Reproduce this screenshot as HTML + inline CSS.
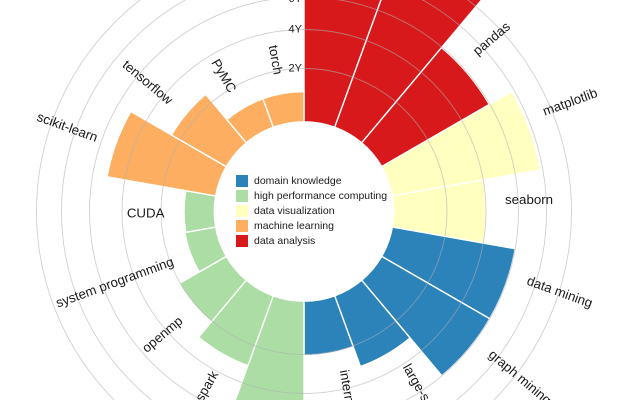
<!DOCTYPE html>
<html><head><meta charset="utf-8"><style>
html,body{margin:0;padding:0;background:#fff;width:640px;height:400px;overflow:hidden}
svg{display:block;overflow:hidden}
text{font-family:"Liberation Sans",Arial,Helvetica,sans-serif;fill:#1a1a1a}
</style></head><body>
<svg width="640" height="400" viewBox="0 0 640 400" xmlns="http://www.w3.org/2000/svg">
<defs><clipPath id="frame"><rect x="0" y="0" width="640" height="400"/></clipPath></defs>
<g clip-path="url(#frame)">
<g stroke="#ffffff" stroke-width="1.4" stroke-linejoin="miter">
<path fill="#d7191c" d="M304,121.8 L304,-78.5 A290,290 0 0 1 403.19,-61.01 L334.68,127.21 A89.7,89.7 0 0 0 304,121.8 Z"/>
<path fill="#d7191c" d="M334.68,127.21 L406.61,-70.41 A300,300 0 0 1 496.84,-18.31 L361.66,142.79 A89.7,89.7 0 0 0 334.68,127.21 Z"/>
<path fill="#d7191c" d="M361.66,142.79 L441.56,47.57 A214,214 0 0 1 489.33,104.5 L381.68,166.65 A89.7,89.7 0 0 0 361.66,142.79 Z"/>
<path fill="#ffffbf" d="M381.68,166.65 L511.85,91.5 A240,240 0 0 1 540.35,169.82 L392.34,195.92 A89.7,89.7 0 0 0 381.68,166.65 Z"/>
<path fill="#ffffbf" d="M392.34,195.92 L483.24,179.9 A182,182 0 0 1 483.24,243.1 L392.34,227.08 A89.7,89.7 0 0 0 392.34,195.92 Z"/>
<path fill="#2b83ba" d="M392.34,227.08 L515.24,248.75 A214.5,214.5 0 0 1 489.76,318.75 L381.68,256.35 A89.7,89.7 0 0 0 392.34,227.08 Z"/>
<path fill="#2b83ba" d="M381.68,256.35 L489.76,318.75 A214.5,214.5 0 0 1 441.88,375.82 L361.66,280.21 A89.7,89.7 0 0 0 381.68,256.35 Z"/>
<path fill="#2b83ba" d="M361.66,280.21 L410.06,337.9 A165,165 0 0 1 360.43,366.55 L334.68,295.79 A89.7,89.7 0 0 0 361.66,280.21 Z"/>
<path fill="#2b83ba" d="M334.68,295.79 L353.25,346.82 A144,144 0 0 1 304,355.5 L304,301.2 A89.7,89.7 0 0 0 334.68,295.79 Z"/>
<path fill="#abdda4" d="M304,301.2 L304,471.5 A260,260 0 0 1 215.07,455.82 L273.32,295.79 A89.7,89.7 0 0 0 304,301.2 Z"/>
<path fill="#abdda4" d="M273.32,295.79 L247.91,365.61 A164,164 0 0 1 198.58,337.13 L246.34,280.21 A89.7,89.7 0 0 0 273.32,295.79 Z"/>
<path fill="#abdda4" d="M246.34,280.21 L211.44,321.81 A144,144 0 0 1 179.29,283.5 L226.32,256.35 A89.7,89.7 0 0 0 246.34,280.21 Z"/>
<path fill="#abdda4" d="M226.32,256.35 L199.21,272 A121,121 0 0 1 184.84,232.51 L215.66,227.08 A89.7,89.7 0 0 0 226.32,256.35 Z"/>
<path fill="#abdda4" d="M215.66,227.08 L185.82,232.34 A120,120 0 0 1 185.82,190.66 L215.66,195.92 A89.7,89.7 0 0 0 215.66,227.08 Z"/>
<path fill="#fdae61" d="M215.66,195.92 L107.04,176.77 A200,200 0 0 1 130.79,111.5 L226.32,166.65 A89.7,89.7 0 0 0 215.66,195.92 Z"/>
<path fill="#fdae61" d="M226.32,166.65 L171.5,135 A153,153 0 0 1 205.65,94.3 L246.34,142.79 A89.7,89.7 0 0 0 226.32,166.65 Z"/>
<path fill="#fdae61" d="M246.34,142.79 L226.87,119.58 A120,120 0 0 1 262.96,98.74 L273.32,127.21 A89.7,89.7 0 0 0 246.34,142.79 Z"/>
<path fill="#fdae61" d="M273.32,127.21 L262.96,98.74 A120,120 0 0 1 304,91.5 L304,121.8 A89.7,89.7 0 0 0 273.32,127.21 Z"/>
</g>
<g fill="none" stroke="#b0b0b0" stroke-opacity="0.6" stroke-width="0.9">
<circle cx="304" cy="211.5" r="143"/>
<circle cx="304" cy="211.5" r="182"/>
<circle cx="304" cy="211.5" r="214.5"/>
<circle cx="304" cy="211.5" r="242.5"/>
<circle cx="304" cy="211.5" r="267.5"/>
</g>
<g font-size="11" text-anchor="end" dominant-baseline="central">
<text x="302" y="68.5">2Y</text>
<text x="302" y="29.5">4Y</text>
<text x="302" y="-1">6Y</text>
</g>
<g font-size="13.3" dominant-baseline="central">
<text text-anchor="start" x="474.78" y="52.54" transform="rotate(-40 474.78 52.54)">pandas</text>
<text text-anchor="start" x="543.28" y="111.64" transform="rotate(-20 543.28 111.64)">matplotlib</text>
<text text-anchor="start" x="505" y="199.5">seaborn</text>
<text text-anchor="start" x="527.52" y="280.08" transform="rotate(20 527.52 280.08)">data mining</text>
<text text-anchor="start" x="490.58" y="352.4" transform="rotate(40 490.58 352.4)">graph mining</text>
<text text-anchor="start" x="406.39" y="364.85" transform="rotate(60 406.39 364.85)">large-scale data</text>
<text text-anchor="start" x="344.12" y="369.94" transform="rotate(80 344.12 369.94)">internship</text>
<text text-anchor="end" x="214.85" y="371.92" transform="rotate(-60 214.85 371.92)">spark</text>
<text text-anchor="end" x="180.68" y="318.9" transform="rotate(-40 180.68 318.9)">openmp</text>
<text text-anchor="end" x="173" y="261" transform="rotate(-20 173 261)">system programming</text>
<text text-anchor="end" x="164.5" y="213">CUDA</text>
<text text-anchor="end" x="97.23" y="137.84" transform="rotate(20 97.23 137.84)">scikit-learn</text>
<text text-anchor="end" x="170.9" y="101.77" transform="rotate(40 170.9 101.77)">tensorflow</text>
<text text-anchor="end" x="232.95" y="91.44" transform="rotate(60 232.95 91.44)">PyMC</text>
<text text-anchor="end" x="278.3" y="74.38" transform="rotate(80 278.3 74.38)">torch</text>
</g>
<g>
<rect x="236" y="175" width="12" height="12" fill="#2b83ba"/>
<rect x="236" y="190" width="12" height="12" fill="#abdda4"/>
<rect x="236" y="205" width="12" height="12" fill="#ffffbf"/>
<rect x="236" y="220" width="12" height="12" fill="#fdae61"/>
<rect x="236" y="235" width="12" height="12" fill="#d7191c"/>
</g>
<g font-size="10.5" dominant-baseline="central">
<text x="254" y="181">domain knowledge</text>
<text x="254" y="196">high performance computing</text>
<text x="254" y="211">data visualization</text>
<text x="254" y="226">machine learning</text>
<text x="254" y="241">data analysis</text>
</g>
</g>
</svg>
</body></html>
